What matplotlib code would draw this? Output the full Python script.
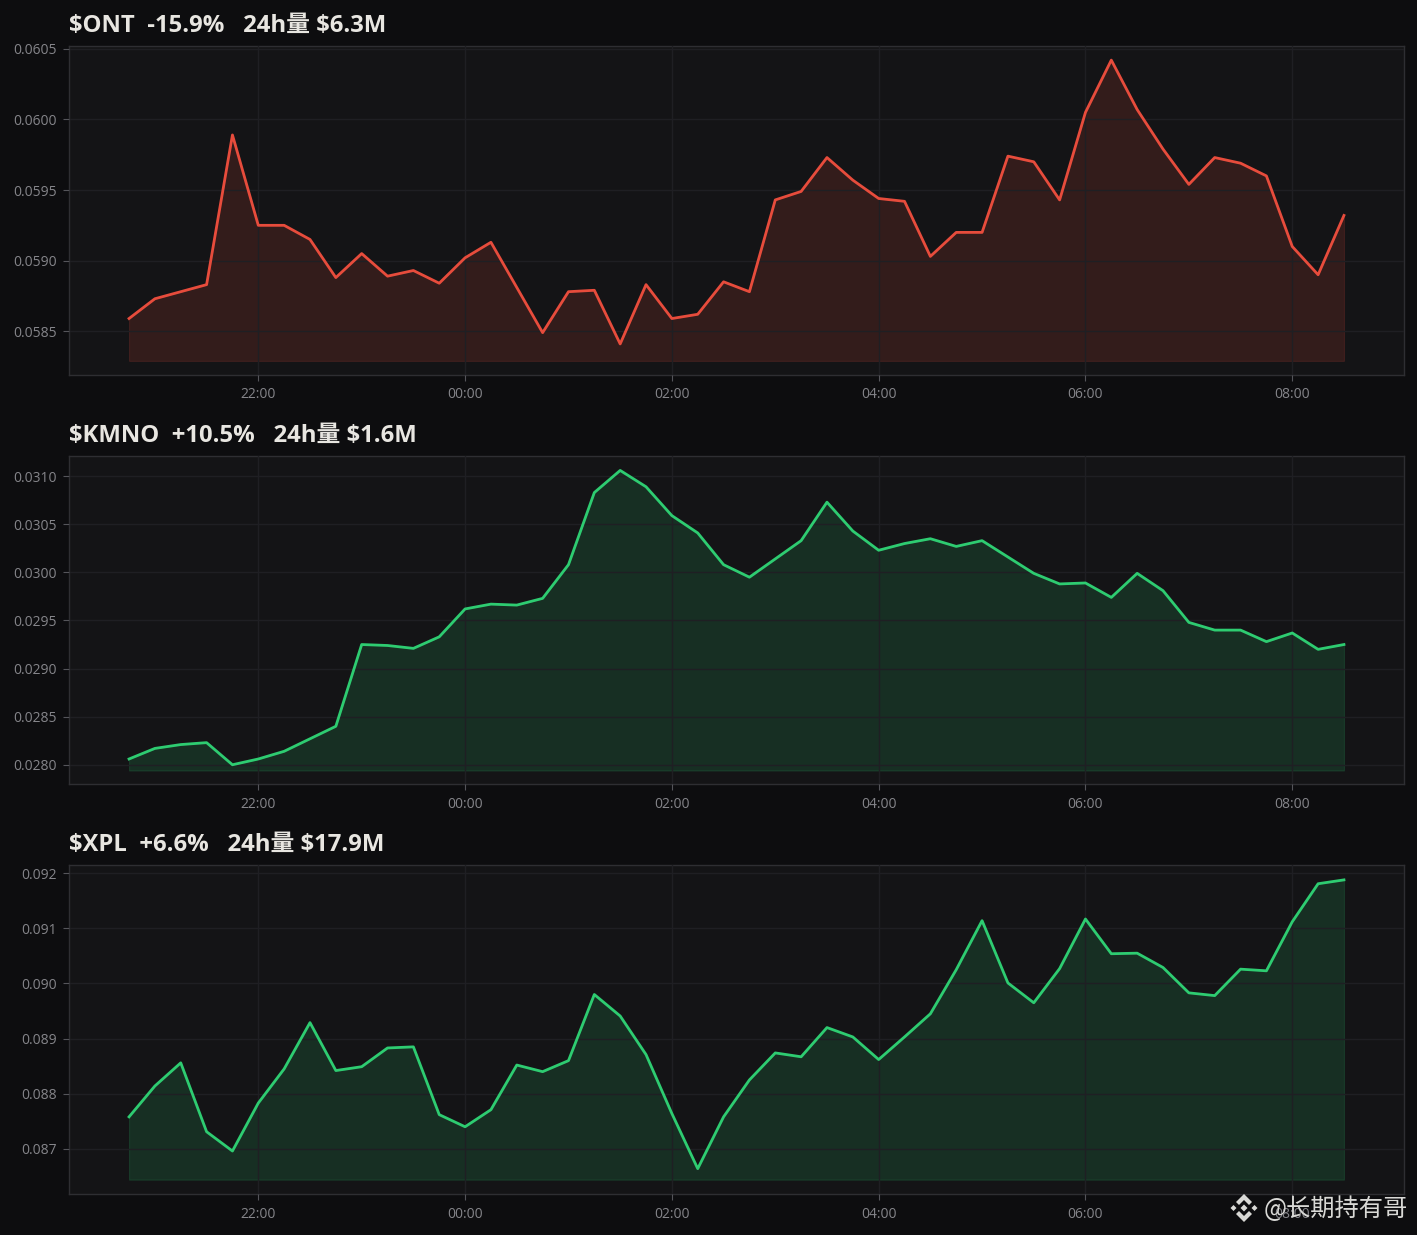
import matplotlib
matplotlib.use("Agg")
import matplotlib.pyplot as plt
from matplotlib.patches import Polygon
from matplotlib.ticker import FormatStrFormatter
import pandas as pd

plt.rcParams['font.family'] = ['Open Sans', 'Noto Sans CJK SC', 'DejaVu Sans']

W, H = 1417, 1235
BG = '#0d0d0f'
PANEL = '#141416'
GRID = '#1f1f23'
SPINE = '#2e2e32'
TICK = '#85858a'
TITLE = '#e8e6e1'
RED = '#e74c3c'
GREEN = '#2ecc71'

times = pd.date_range('2024-01-01 20:45', periods=48, freq='15min')
tick_labels = ['22:00', '00:00', '02:00', '04:00', '06:00', '08:00']
tick_times = pd.to_datetime(['2024-01-01 22:00', '2024-01-02 00:00', '2024-01-02 02:00',
                             '2024-01-02 04:00', '2024-01-02 06:00', '2024-01-02 08:00'])

ont = [0.05859, 0.05873, 0.05878, 0.05883, 0.05989, 0.05925, 0.05925, 0.05915,
       0.05888, 0.05905, 0.05889, 0.05893, 0.05884, 0.05902, 0.05913, 0.05881,
       0.05849, 0.05878, 0.05879, 0.05841, 0.05883, 0.05859, 0.05862, 0.05885,
       0.05878, 0.05943, 0.05949, 0.05973, 0.05957, 0.05944, 0.05942, 0.05903,
       0.05920, 0.05920, 0.05974, 0.05970, 0.05943, 0.06005, 0.06042, 0.06007,
       0.05979, 0.05954, 0.05973, 0.05969, 0.05960, 0.05910, 0.05890, 0.05932]
kmno = [0.02806, 0.02817, 0.02821, 0.02823, 0.02800, 0.02806, 0.02814, 0.02827,
        0.02840, 0.02925, 0.02924, 0.02921, 0.02933, 0.02962, 0.02967, 0.02966,
        0.02973, 0.03008, 0.03083, 0.03106, 0.03089, 0.03059, 0.03041, 0.03008,
        0.02995, 0.03014, 0.03033, 0.03073, 0.03043, 0.03023, 0.03030, 0.03035,
        0.03027, 0.03033, 0.03016, 0.02999, 0.02988, 0.02989, 0.02974, 0.02999,
        0.02981, 0.02948, 0.02940, 0.02940, 0.02928, 0.02937, 0.02920, 0.02925]
xpl = [0.08758, 0.08814, 0.08856, 0.08731, 0.08696, 0.08783, 0.08845, 0.08929,
       0.08842, 0.08849, 0.08883, 0.08885, 0.08762, 0.08740, 0.08771, 0.08852,
       0.08840, 0.08860, 0.08980, 0.08941, 0.08871, 0.08764, 0.08664, 0.08758,
       0.08825, 0.08874, 0.08867, 0.08920, 0.08903, 0.08862, 0.08903, 0.08945,
       0.09025, 0.09114, 0.09001, 0.08965, 0.09027, 0.09117, 0.09054, 0.09055,
       0.09029, 0.08983, 0.08978, 0.09026, 0.09023, 0.09112, 0.09181, 0.09188]

titles = ['$ONT  -15.9%   24h量 $6.3M', '$KMNO  +10.5%   24h量 $1.6M', '$XPL  +6.6%   24h量 $17.9M']
series = [ont, kmno, xpl]
colors = [RED, GREEN, GREEN]
baselines = [0.05829, 0.02794, 0.08644]
ylims = [(0.05819, 0.06052), (0.02780, 0.03121), (0.08618, 0.09215)]
yticks = [[0.0585, 0.0590, 0.0595, 0.0600, 0.0605],
          [0.0280, 0.0285, 0.0290, 0.0295, 0.0300, 0.0305, 0.0310],
          [0.087, 0.088, 0.089, 0.090, 0.091, 0.092]]
yfmt = ['%.4f', '%.4f', '%.3f']
boxes = [(46, 375), (456, 784), (865, 1194)]  # top/bottom in pixels

step = pd.Timedelta(minutes=15)
xlim = (times[0] - step * 60 / 25.83, times[-1] + step * 60 / 25.83)

fig = plt.figure(figsize=(W / 100, H / 100), dpi=100, facecolor=BG)

for i in range(3):
    top, bottom = boxes[i]
    ax = fig.add_axes([69 / W, 1 - bottom / H, (1404 - 69) / W, (bottom - top) / H], facecolor=PANEL)
    ax.fill_between(times, series[i], baselines[i], color=colors[i], alpha=0.15, linewidth=0.8, zorder=2)
    ax.plot(times, series[i], color=colors[i], linewidth=2.0, zorder=3, solid_joinstyle='round')
    ax.set_xlim(xlim)
    ax.set_ylim(ylims[i])
    ax.set_xticks(tick_times)
    ax.set_xticklabels(tick_labels)
    ax.set_yticks(yticks[i])
    ax.yaxis.set_major_formatter(FormatStrFormatter(yfmt[i]))
    ax.grid(True, color=GRID, linewidth=1, zorder=1)
    ax.set_axisbelow(False)
    for line in ax.get_xgridlines() + ax.get_ygridlines():
        line.set_zorder(2.5)
    ax.tick_params(colors=TICK, labelsize=10, length=4, width=0.8, pad=5)
    ax.tick_params(axis='x', color='#55555a')
    ax.tick_params(axis='y', color='#55555a', pad=5)
    for s in ax.spines.values():
        s.set_color(SPINE)
        s.set_linewidth(1)
    fig.text(69 / W, 1 - (top - 14) / H, titles[i], color=TITLE, fontsize=17.2, fontweight='bold',
             ha='left', va='baseline', parse_math=False)

# watermark, binance logo + handle
def diamond(cx, cy, r):
    return [(cx - r, cy), (cx, cy - r), (cx + r, cy), (cx, cy + r)]

lx, ly = 1244, 1208
logo_color = '#d9d9d6'
shapes = [diamond(lx, ly, 3.5), diamond(lx - 10.5, ly, 3), diamond(lx + 10.5, ly, 3),
          [(lx, ly - 14), (lx + 8, ly - 6), (lx + 5, ly - 3), (lx, ly - 8), (lx - 5, ly - 3), (lx - 8, ly - 6)],
          [(lx, ly + 14), (lx + 8, ly + 6), (lx + 5, ly + 3), (lx, ly + 8), (lx - 5, ly + 3), (lx - 8, ly + 6)]]
for pts in shapes:
    fig.add_artist(Polygon([(x / W, 1 - y / H) for x, y in pts], closed=True, transform=fig.transFigure,
                           facecolor=logo_color, edgecolor='none', zorder=10))
fig.text(1264 / W, 1 - 1209 / H, '@长期持有哥', color=logo_color, fontsize=17.5, ha='left', va='center', zorder=10,
         family=['Noto Sans CJK SC', 'DejaVu Sans'])

fig.savefig('out.png', dpi=100, facecolor=BG)
